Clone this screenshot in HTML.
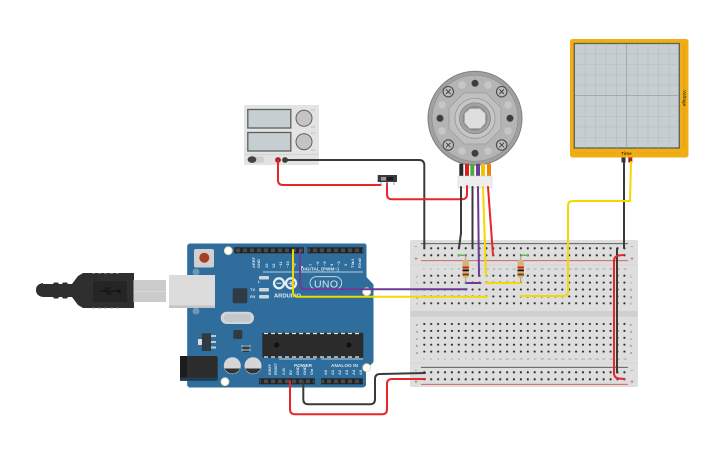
<!DOCTYPE html>
<html><head><meta charset="utf-8"><style>html,body{margin:0;padding:0;background:#fff;width:725px;height:453px;overflow:hidden}svg{display:block}text{font-family:"Liberation Sans",sans-serif}</style></head>
<body>
<svg width="725" height="453" viewBox="0 0 725 453" xmlns="http://www.w3.org/2000/svg">
<defs>
<pattern id="hh" x="421.900" y="273.300" width="6.900" height="6.900" patternUnits="userSpaceOnUse"><circle cx="2.400" cy="2.400" r="1.100" fill="#2a2a2a"/></pattern>
<pattern id="hl" x="421.900" y="321.600" width="6.900" height="6.900" patternUnits="userSpaceOnUse"><circle cx="2.400" cy="2.400" r="1.100" fill="#2a2a2a"/></pattern>
<pattern id="ht" x="421.900" y="245.900" width="6.900" height="7" patternUnits="userSpaceOnUse"><circle cx="2.400" cy="2.400" r="1.100" fill="#2a2a2a"/></pattern>
<pattern id="hb" x="421.900" y="369.900" width="6.900" height="7" patternUnits="userSpaceOnUse"><circle cx="2.400" cy="2.400" r="1.100" fill="#2a2a2a"/></pattern>
<pattern id="pin" x="234.500" y="0" width="7" height="10" patternUnits="userSpaceOnUse"><rect x="1.400" y="0" width="4.200" height="10" fill="#4a4a4a"/></pattern>
</defs>

<!-- USB cable -->
<path d="M43 284h10l1-1.500h4l1 1.500h3l1-1.500h4l1 1.500h4l6-8 5-3h51v35H83l-5-3-6-8h-4l-1 1.500h-4l-1-1.500h-3l-1 1.500h-4l-1-1.500H43q-7-1-7-7t7-7z" fill="#2f2f2f"/>
<path d="M92 273.500h3M98 273.500h3M104 273.500h3M110 273.500h3M116 273.500h3M92 308h3M98 308h3M104 308h3M110 308h3M116 308h3" stroke="#888" stroke-width=".7"/>
<rect x="93" y="281" width="34" height="21" fill="#252525"/>
<path d="M99 291h18M104 291l4-3h3M106 291l3 3h3" stroke="#111" stroke-width="1" fill="none"/><circle cx="119" cy="291" r="1.800" fill="#111"/>
<rect x="133.500" y="280" width="32.500" height="22" fill="#cbcbcb"/>
<rect x="133.500" y="291" width="32.500" height=".8" fill="#dcdcdc"/>

<!-- Arduino -->
<path d="M189 243.500H365l1.500 1.500V277l7 7.500V362l-7.500 8v15.500l-2.500 2H189l-1.800-2V245.500z" fill="#2e6d9c"/>
<rect x="169" y="275" width="46" height="33" fill="#dcdcdc"/>
<rect x="169" y="305.500" width="46" height="2.500" fill="#c4c4c4"/>
<circle cx="196" cy="272" r="3.500" fill="#dfe6ea" opacity=".35"/><circle cx="196" cy="311" r="3.500" fill="#dfe6ea" opacity=".35"/>
<rect x="194" y="249" width="20" height="18.500" rx="2" fill="#cfcfcf"/>
<circle cx="204.300" cy="257.700" r="5" fill="#a63d24"/>
<rect x="234.300" y="247.300" width="69.700" height="6" fill="#232323"/><rect x="234.500" y="248.500" width="69.500" height="3.700" fill="url(#pin)"/>
<rect x="307.300" y="247.300" width="56" height="6" fill="#232323"/><rect x="307.500" y="248.500" width="55.800" height="3.700" fill="url(#pin)"/>
<rect x="259" y="378.300" width="56" height="6" fill="#232323"/><rect x="259.500" y="379.500" width="55" height="3.700" fill="url(#pin)"/>
<rect x="321" y="378.300" width="42" height="6" fill="#232323"/><rect x="321.500" y="379.500" width="41" height="3.700" fill="url(#pin)"/>
<circle cx="228.300" cy="250.700" r="3.900" fill="#fff" stroke="#e8dfa8"/><circle cx="366.700" cy="291.700" r="3.900" fill="#fff" stroke="#e8dfa8"/><circle cx="366.700" cy="367.700" r="3.900" fill="#fff" stroke="#e8dfa8"/><circle cx="225" cy="381.700" r="3.900" fill="#fff" stroke="#e8dfa8"/>
<g fill="#dbe6ee" font-size="4" font-weight="bold">
<text transform="translate(255,268) rotate(-90)">AREF</text><text transform="translate(260,268) rotate(-90)">GND</text><text transform="translate(268,268) rotate(-90)">13</text><text transform="translate(275,268) rotate(-90)">12</text><text transform="translate(282,268) rotate(-90)">~11</text><text transform="translate(289,268) rotate(-90)">~10</text><text transform="translate(296,268) rotate(-90)">~9</text><text transform="translate(303,268) rotate(-90)">8</text>
<text transform="translate(312,266) rotate(-90)">7</text><text transform="translate(319,266) rotate(-90)">~6</text><text transform="translate(326,266) rotate(-90)">~5</text><text transform="translate(333,266) rotate(-90)">4</text><text transform="translate(340,266) rotate(-90)">~3</text><text transform="translate(347,266) rotate(-90)">2</text><text transform="translate(354,268) rotate(-90)">TX▸1</text><text transform="translate(361,268) rotate(-90)">RX◂0</text>
<text x="301" y="270.500" font-size="4.800">DIGITAL (PWM~)</text>
<text x="294" y="367" font-size="4.800">POWER</text><text x="331" y="367" font-size="4.800">ANALOG IN</text>
<text x="258" y="283" font-size="4">L</text><text x="250" y="291" font-size="4">TX</text><text x="250" y="298" font-size="4">RX</text>
<text transform="translate(271,375) rotate(-90)" font-size="3.600">IOREF</text><text transform="translate(277,375) rotate(-90)" font-size="3.600">RESET</text><text transform="translate(285,375) rotate(-90)" font-size="3.600">3.3V</text><text transform="translate(292,375) rotate(-90)">5V</text><text transform="translate(299,375) rotate(-90)">GND</text><text transform="translate(306,375) rotate(-90)">GND</text><text transform="translate(313,375) rotate(-90)">Vin</text>
<text transform="translate(327,375) rotate(-90)">A0</text><text transform="translate(334,375) rotate(-90)">A1</text><text transform="translate(341,375) rotate(-90)">A2</text><text transform="translate(348,375) rotate(-90)">A3</text><text transform="translate(355,375) rotate(-90)">A4</text><text transform="translate(362,375) rotate(-90)">A5</text>
</g>
<path d="M263 272h100M279 359h37M321 359h42" stroke="#e3edf3" stroke-width=".7"/>
<rect x="259" y="276" width="10" height="3.500" rx="1" fill="#cfd6da"/><rect x="259" y="288" width="10" height="3.500" rx="1" fill="#cfd6da"/><rect x="259" y="295" width="10" height="3.500" rx="1" fill="#cfd6da"/>
<rect x="232.700" y="288.300" width="14.600" height="15" rx="1" fill="#2f3a43"/>
<rect x="220.700" y="311.700" width="33.300" height="12.300" rx="6" fill="#d2d6d8"/><rect x="224" y="314" width="27" height="8" rx="4" fill="#c3c8ca"/>
<rect x="233.300" y="330" width="9" height="9" rx="1" fill="#2f3a43"/>
<rect x="201.700" y="333.300" width="9.300" height="17.700" fill="#2f3a43"/><rect x="198" y="339" width="4" height="6" fill="#dcdcdc"/><path d="M211 336h5M211 342h5M211 347.500h5" stroke="#c6c9cc" stroke-width="2"/>
<rect x="243" y="345" width="6" height="7" fill="#2f3a43"/><path d="M241 346h10M241 350h10" stroke="#c6c9cc"/>
<rect x="180" y="356" width="37.700" height="24.700" rx="2" fill="#2c2c2c"/><rect x="180" y="356" width="7" height="24.700" fill="#1c1c1c"/><rect x="180" y="377.500" width="37.700" height="3.200" fill="#1f3e55"/>
<circle cx="232.300" cy="365.700" r="8.500" fill="#d6d6d6"/><path d="M224.500 368.500a8.500 8.500 0 0 0 15.600 0z" fill="#333"/>
<circle cx="253" cy="365.700" r="8.500" fill="#d6d6d6"/><path d="M245.200 368.500a8.500 8.500 0 0 0 15.600 0z" fill="#333"/>
<rect x="262.300" y="332.700" width="101" height="25" rx="1" fill="#2b2b2b"/>
<path d="M264 333.500h98M264 357h98" stroke="#e8e8e8" stroke-width="1.200" stroke-dasharray="4 3"/>
<circle cx="276.700" cy="345" r="2.600" fill="#111"/><circle cx="349" cy="345" r="2.600" fill="#111"/>
<g fill="none" stroke="#e6eef4" stroke-width="2.300"><circle cx="279" cy="283.300" r="5"/><circle cx="291" cy="283.300" r="5"/></g>
<path d="M276.500 283.300h5M288.500 283.300h5M291 281v5" stroke="#e6eef4" stroke-width="1"/>
<text x="274" y="297.500" font-size="5.800" font-weight="bold" fill="#e6eef4">ARDUINO</text>
<rect x="310" y="276.700" width="31.700" height="12.600" rx="6.300" fill="none" stroke="#dbe6ee" stroke-width=".8"/>
<text x="314" y="287.500" font-size="10.500" fill="#dbe6ee" textLength="24">UNO</text>

<!-- Breadboard -->
<rect x="410" y="240" width="228" height="147" rx="2" fill="#dedede"/>
<rect x="410.500" y="311" width="227" height="5.700" fill="#d0d0d0"/>
<path d="M410 265h228M410 363h228" stroke="#d2d2d2" stroke-width=".7"/>
<path d="M421 243.700h207M421 367.300h207" stroke="#4a4a4a" stroke-width=".9"/>
<path d="M421 260.700h207M421 384.300h207" stroke="#c9534f" stroke-width=".9"/>
<rect x="421.900" y="245.900" width="207" height="12" fill="url(#ht)"/>
<rect x="421.900" y="273.300" width="207" height="34.500" fill="url(#hh)"/>
<rect x="421.900" y="321.600" width="207" height="34.500" fill="url(#hl)"/>
<rect x="421.900" y="369.900" width="207" height="12" fill="url(#hb)"/>
<g fill="#8f8f8f" font-size="3" text-anchor="middle">
<text x="424" y="270">1</text><text x="431" y="270">2</text><text x="438" y="270">3</text><text x="445" y="270">4</text><text x="452" y="270">5</text><text x="459" y="270">6</text><text x="466" y="270">7</text><text x="473" y="270">8</text><text x="480" y="270">9</text><text x="487" y="270">10</text><text x="494" y="270">11</text><text x="500" y="270">12</text><text x="507" y="270">13</text><text x="514" y="270">14</text><text x="521" y="270">15</text><text x="528" y="270">16</text><text x="535" y="270">17</text><text x="542" y="270">18</text><text x="549" y="270">19</text><text x="556" y="270">20</text><text x="563" y="270">21</text><text x="570" y="270">22</text><text x="576" y="270">23</text><text x="583" y="270">24</text><text x="590" y="270">25</text><text x="597" y="270">26</text><text x="604" y="270">27</text><text x="611" y="270">28</text><text x="618" y="270">29</text><text x="625" y="270">30</text>
<text x="424" y="360">1</text><text x="431" y="360">2</text><text x="438" y="360">3</text><text x="445" y="360">4</text><text x="452" y="360">5</text><text x="459" y="360">6</text><text x="466" y="360">7</text><text x="473" y="360">8</text><text x="480" y="360">9</text><text x="487" y="360">10</text><text x="494" y="360">11</text><text x="500" y="360">12</text><text x="507" y="360">13</text><text x="514" y="360">14</text><text x="521" y="360">15</text><text x="528" y="360">16</text><text x="535" y="360">17</text><text x="542" y="360">18</text><text x="549" y="360">19</text><text x="556" y="360">20</text><text x="563" y="360">21</text><text x="570" y="360">22</text><text x="576" y="360">23</text><text x="583" y="360">24</text><text x="590" y="360">25</text><text x="597" y="360">26</text><text x="604" y="360">27</text><text x="611" y="360">28</text><text x="618" y="360">29</text><text x="625" y="360">30</text>
</g>
<g fill="#666" font-size="3.500" text-anchor="middle">
<text x="417" y="277">j</text><text x="417" y="284">i</text><text x="417" y="291">h</text><text x="417" y="298">g</text><text x="417" y="305">f</text><text x="417" y="326">e</text><text x="417" y="333">d</text><text x="417" y="340">c</text><text x="417" y="347">b</text><text x="417" y="354">a</text>
<text x="631" y="277">j</text><text x="631" y="284">i</text><text x="631" y="291">h</text><text x="631" y="298">g</text><text x="631" y="305">f</text><text x="631" y="326">e</text><text x="631" y="333">d</text><text x="631" y="340">c</text><text x="631" y="347">b</text><text x="631" y="354">a</text>
<text x="416" y="248" font-size="5">−</text><text x="632" y="248" font-size="5">−</text><text x="416" y="372" font-size="5">−</text><text x="632" y="372" font-size="5">−</text>
<text x="416" y="261" font-size="6" fill="#c33">+</text><text x="632" y="261" font-size="6" fill="#c33">+</text><text x="416" y="384" font-size="6" fill="#c33">+</text><text x="632" y="384" font-size="6" fill="#c33">+</text>
</g>

<!-- Power supply -->
<rect x="244" y="105" width="75" height="60" rx="1" fill="#e3e3e3"/>
<path d="M244 154.500h75" stroke="#d2d2d2"/>
<rect x="247.800" y="109.500" width="43" height="18.500" fill="#c5cfd1" stroke="#5c5f5f" stroke-width="1.300"/>
<rect x="247.800" y="132.500" width="43" height="18.500" fill="#c5cfd1" stroke="#5c5f5f" stroke-width="1.300"/>
<circle cx="304" cy="118.300" r="8" fill="#c4c4c4" stroke="#5e5e5e"/><circle cx="304" cy="141.700" r="8" fill="#c4c4c4" stroke="#5e5e5e"/>
<rect x="247.500" y="156.300" width="17" height="6.500" rx="3.200" fill="#cfcfcf"/><ellipse cx="252" cy="159.600" rx="4.300" ry="3.300" fill="#444"/>
<circle cx="278" cy="160" r="2.900" fill="#a81f1f"/><circle cx="285" cy="160" r="2.900" fill="#3a3f3f"/>
<text x="299" y="161" font-size="3.500" fill="#c2c2c2">30V 5A</text>
<g fill="#a5a5a5" font-size="2.800"><text x="311" y="111">0.0</text><text x="311" y="128">0.0</text><text x="311" y="134">0.0</text><text x="311" y="151">0.0</text></g>

<!-- Motor -->
<circle cx="475" cy="118.300" r="47" fill="#a0a0a0" stroke="#808080"/>
<circle cx="475" cy="118.300" r="43" fill="#b4b4b4" stroke="#8f8f8f" stroke-width=".7"/>
<g fill="#c6c6c6"><circle cx="462" cy="85" r="3.800"/><circle cx="488" cy="85" r="3.800"/><circle cx="442" cy="105" r="3.800"/><circle cx="508" cy="105" r="3.800"/><circle cx="442" cy="131" r="3.800"/><circle cx="508" cy="131" r="3.800"/><circle cx="462" cy="151" r="3.800"/><circle cx="488" cy="151" r="3.800"/></g>
<g fill="#3e3e3e"><circle cx="475" cy="83.300" r="3.500"/><circle cx="475" cy="153.300" r="3.500"/><circle cx="440" cy="118.300" r="3.500"/><circle cx="510" cy="118.300" r="3.500"/></g>
<g fill="#bdbdbd" stroke="#4a4a4a" stroke-width="1.100"><circle cx="448.300" cy="91.700" r="5.200"/><circle cx="501.700" cy="91.700" r="5.200"/><circle cx="448.300" cy="145" r="5.200"/><circle cx="501.700" cy="145" r="5.200"/></g>
<path d="M446 89.400l4.600 4.600M450.600 89.400l-4.600 4.600M499.400 89.400l4.600 4.600M504 89.400l-4.600 4.600M446 142.700l4.600 4.600M450.600 142.700l-4.600 4.600M499.400 142.700l4.600 4.600M504 142.700l-4.600 4.600" stroke="#444" stroke-width="1"/>
<path d="M464 93h22l15 15v21l-15 15h-22l-15-15v-21z" fill="#c0c0c0" stroke="#9a9a9a" stroke-width=".7"/>
<circle cx="475" cy="118.300" r="20" fill="#c6c6c6" stroke="#8f8f8f" stroke-width=".7"/>
<circle cx="475" cy="118.300" r="15.500" fill="#a3a3a3" stroke="#808080" stroke-width=".7"/>
<circle cx="475" cy="118.300" r="12.500" fill="#8a8a8a"/>
<path d="M470 108.500h10l5.500 5v9.500l-5 5.500h-11l-5-5.500v-9.500z" fill="#dedede" stroke="#a8a8a8" stroke-width=".7"/>
<rect x="459.300" y="163.700" width="4" height="12.300" fill="#2a2a2a"/><rect x="465" y="163.700" width="4" height="12.300" fill="#d81f1f"/><rect x="470.300" y="163.700" width="4" height="12.300" fill="#4caa3f"/><rect x="476" y="163.700" width="4" height="12.300" fill="#6d3a95"/><rect x="481" y="163.700" width="4" height="12.300" fill="#f2c300"/><rect x="487" y="163.700" width="4" height="12.300" fill="#ee8508"/>
<rect x="458" y="176" width="34" height="12" fill="#eeeeee" stroke="#cfcfcf" stroke-width=".5"/>

<!-- Oscilloscope -->
<rect x="570" y="39" width="118.500" height="118.500" rx="2.500" fill="#f0ae14"/>
<rect x="574.300" y="43.500" width="105" height="104.500" fill="#c5cfd1" stroke="#5a5f5f" stroke-width="1.300"/>
<path d="M585 44v104M595.500 44v104M606 44v104M616.500 44v104M637.500 44v104M648 44v104M658.500 44v104M669 44v104M575 54h104M575 64.500h104M575 75h104M575 85h104M575 106h104M575 116.500h104M575 127h104M575 137.500h104" stroke="#b3bdc0" stroke-width=".6"/>
<path d="M626.500 44v104M575 95.500h104" stroke="#98a2a5" stroke-width=".8"/>
<path d="M575 153h40M637 153h43M684 44v46M684 103v45" stroke="#d69708" stroke-width=".6"/>
<text x="621" y="155" font-size="4.600" font-weight="bold" fill="#4b3b10">Time</text>
<text transform="translate(683,90) rotate(90)" font-size="4.600" font-weight="bold" fill="#4b3b10">Voltage</text>
<rect x="621.500" y="157.500" width="4" height="5" fill="#333"/><rect x="628.300" y="157.500" width="4" height="5" fill="#a81f1f"/>

<!-- Wires -->
<g fill="none" stroke-linecap="round" stroke-linejoin="round" stroke-width="2">
<path d="M278 160v20q0 5 5 5h97.700" stroke="#e8262a"/>
<path d="M285 160h134q5.300 0 5.300 5.300V248" stroke="#3a3a3a"/>
<path d="M387 183v11.300q0 5 5 5h70q5 0 5-5V186" stroke="#e8262a"/>
<path d="M461 187v46l-2 15" stroke="#3a3a3a"/>
<path d="M472.500 187v61" stroke="#3a3a3a"/>
<path d="M478 187l1 89" stroke="#6d3a95"/>
<path d="M483 187l3 89" stroke="#f4d800"/>
<path d="M488 187l5 68" stroke="#e8262a"/>
<path d="M624 162v86" stroke="#3a3a3a"/>
<path d="M631 162l-1 39h-57q-5 0-5 5v85q0 5-5 5h-42.500" stroke="#f4d800"/>
<path d="M293 250v41.700q0 5 5 5h189" stroke="#f4d800"/>
<path d="M300 250v34.300q0 5 5 5h161.700" stroke="#6d3a95"/>
<path d="M303.300 381v18.300q0 5 5 5H370q5 0 5-5v-20.300q0-5 5-5l45-1" stroke="#3a3a3a"/>
<path d="M290 381v28.300q0 5 5 5H382q5 0 5-5V384q0-5 5-5h33" stroke="#e8262a"/>
<path d="M617 248.500v124" stroke="#3a3a3a"/>
<path d="M623.500 255l-5 .5q-4.500 1-4.500 5V373q0 5 5 5.500l5.500.5" stroke="#e8262a"/>
<path d="M466 283h14.500" stroke="#6d3a95"/>
<path d="M486 283h35" stroke="#f4d800"/>
</g>

<!-- Switch -->
<rect x="377.700" y="175" width="19.300" height="7" fill="#3a3a3a"/><rect x="381" y="177" width="5" height="3.500" fill="#999"/><rect x="387" y="177" width="6" height="3.500" fill="#1b1b1b"/>
<path d="M381 182v3M387 182v3M394 182v3" stroke="#888" stroke-width=".8"/>

<!-- Resistors -->
<g>
<path d="M458 255.300h7.700M520.700 255.300h7.700" stroke="#5cb85c" stroke-width="1.500"/>
<path d="M465.700 255.500v27.500M520.700 255.500v27.500" stroke="#9a9a9a" stroke-width="1"/>
<rect x="462.500" y="259.500" width="6.400" height="18.500" rx="2.500" fill="#d6b57a"/>
<rect x="462.500" y="266.500" width="6.400" height="2" fill="#d81f1f"/><rect x="462.500" y="269.500" width="6.400" height="1.800" fill="#111"/><rect x="462.500" y="273.500" width="6.400" height="2" fill="#7a3d10"/>
<rect x="517.500" y="259.500" width="6.400" height="18.500" rx="2.500" fill="#d6b57a"/>
<rect x="517.500" y="266.500" width="6.400" height="2" fill="#d81f1f"/><rect x="517.500" y="269.500" width="6.400" height="1.800" fill="#111"/><rect x="517.500" y="273.500" width="6.400" height="2" fill="#7a3d10"/>
</g>
</svg>
</body></html>
